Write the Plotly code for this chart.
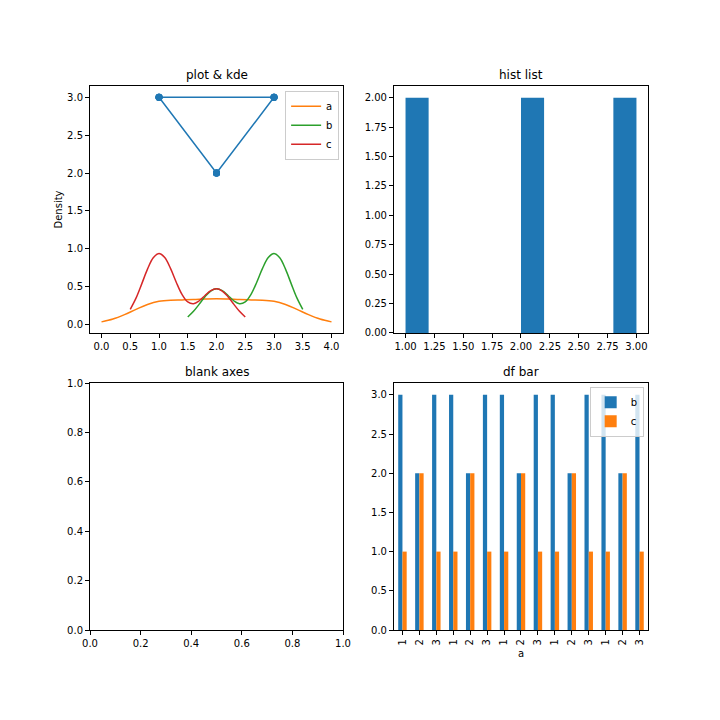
import numpy as np
import plotly.graph_objects as go
from plotly.subplots import make_subplots

# dataframe columns
a = [1, 2, 3, 1, 2, 3, 1, 2, 3, 1, 2, 3, 1, 2, 3]
b = [3, 2, 3, 3, 2, 3, 3, 2, 3, 3, 2, 3, 3, 2, 3]
c = [1, 2, 1, 1, 2, 1, 1, 2, 1, 1, 2, 1, 1, 2, 1]

# kde curves
kde_a_x = [0.0, 0.2, 0.4, 0.6, 0.8, 1.0, 1.2, 1.4, 1.6, 1.8, 2.0,
           2.2, 2.4, 2.6, 2.8, 3.0, 3.2, 3.4, 3.6, 3.8, 4.0]
kde_a_y = [0.034, 0.072, 0.130, 0.199, 0.263, 0.305, 0.321, 0.324, 0.328, 0.335, 0.339,
           0.335, 0.328, 0.324, 0.321, 0.305, 0.263, 0.199, 0.130, 0.072, 0.034]
kde_b_x = [1.5, 1.6, 1.7, 1.8, 1.9, 2.0, 2.1, 2.2, 2.3, 2.4, 2.5,
           2.6, 2.7, 2.8, 2.9, 3.0, 3.1, 3.2, 3.3, 3.4, 3.5]
kde_b_y = [0.099, 0.174, 0.268, 0.366, 0.441, 0.470, 0.446, 0.383, 0.313, 0.274, 0.298,
           0.397, 0.558, 0.740, 0.884, 0.938, 0.881, 0.731, 0.536, 0.347, 0.199]
kde_c_x = [0.5, 0.6, 0.7, 0.8, 0.9, 1.0, 1.1, 1.2, 1.3, 1.4, 1.5,
           1.6, 1.7, 1.8, 1.9, 2.0, 2.1, 2.2, 2.3, 2.4, 2.5]
kde_c_y = [0.199, 0.347, 0.536, 0.731, 0.881, 0.938, 0.884, 0.740, 0.558, 0.397, 0.298,
           0.274, 0.313, 0.383, 0.446, 0.470, 0.441, 0.366, 0.268, 0.174, 0.099]

hist_list = [1, 1, 2, 2, 3, 3]

BLUE, ORANGE, GREEN, RED = "#1f77b4", "#ff7f0e", "#2ca02c", "#d62728"
FONT = "DejaVu Sans"

fig = make_subplots(rows=2, cols=2)

# plot & kde
fig.add_trace(go.Scatter(x=a, y=b, mode="lines+markers", line=dict(color=BLUE, width=1.5),
                         marker=dict(size=7, color=BLUE), showlegend=False), row=1, col=1)
for name, xs, ys, col in [("a", kde_a_x, kde_a_y, ORANGE), ("b", kde_b_x, kde_b_y, GREEN),
                          ("c", kde_c_x, kde_c_y, RED)]:
    fig.add_trace(go.Scatter(x=xs, y=ys, mode="lines", name=name, line=dict(color=col, width=1.5, shape="spline"),
                             legend="legend"), row=1, col=1)

# hist list
counts, edges = np.histogram(hist_list, bins=10)
fig.add_trace(go.Bar(x=edges[:-1], y=counts, width=edges[1] - edges[0], offset=0,
                     marker=dict(color=BLUE, line=dict(width=0)), showlegend=False), row=1, col=2)

# blank axes (empty trace so the axes get drawn)
fig.add_trace(go.Scatter(x=[None], y=[None], mode="markers", showlegend=False, hoverinfo="skip"),
              row=2, col=1)

# df bar
idx = list(range(len(a)))
fig.add_trace(go.Bar(x=idx, y=b, name="b", width=0.25, offset=-0.25,
                     marker=dict(color=BLUE, line=dict(width=0)), legend="legend2"), row=2, col=2)
fig.add_trace(go.Bar(x=idx, y=c, name="c", width=0.25, offset=0,
                     marker=dict(color=ORANGE, line=dict(width=0)), legend="legend2"), row=2, col=2)

axis_style = dict(showline=True, mirror=True, linecolor="black", linewidth=1, ticks="outside",
                  ticklen=4, tickwidth=1, tickcolor="black", showgrid=False, zeroline=False,
                  tickfont=dict(size=10, color="black"))

xd1, xd2 = [0.125, 0.4764], [0.5472, 0.9]
yd_top, yd_bot = [0.5375, 0.8806], [0.125, 0.468]

fig.update_layout(
    template="none", width=720, height=720, margin=dict(l=0, r=0, t=0, b=0),
    paper_bgcolor="white", plot_bgcolor="white", font=dict(family=FONT, size=10, color="black"),
    barmode="overlay",
    xaxis=dict(axis_style, domain=xd1, range=[-0.2, 4.2], dtick=0.5, tick0=0, tickformat=".1f"),
    yaxis=dict(axis_style, domain=yd_top, range=[-0.113, 3.15], dtick=0.5, tick0=0, tickformat=".1f",
               title=dict(text="Density", font=dict(size=10), standoff=2)),
    xaxis2=dict(axis_style, domain=xd2, range=[0.9, 3.1], dtick=0.25, tick0=1, tickformat=".2f"),
    yaxis2=dict(axis_style, domain=yd_top, range=[0, 2.1], dtick=0.25, tick0=0, tickformat=".2f"),
    xaxis3=dict(axis_style, domain=xd1, range=[0, 1], dtick=0.2, tick0=0, tickformat=".1f"),
    yaxis3=dict(axis_style, domain=yd_bot, range=[0, 1], dtick=0.2, tick0=0, tickformat=".1f"),
    xaxis4=dict(axis_style, domain=xd2, range=[-0.5, 14.5], tickmode="array", tickvals=idx,
                ticktext=[str(v) for v in a], tickangle=-90,
                title=dict(text="a", font=dict(size=10), standoff=5)),
    yaxis4=dict(axis_style, domain=yd_bot, range=[0, 3.15], dtick=0.5, tick0=0, tickformat=".1f"),
    legend=dict(x=0.471, y=0.874, xanchor="right", yanchor="top", bgcolor="rgba(255,255,255,0.8)",
                bordercolor="#cccccc", borderwidth=1, font=dict(size=10), tracegroupgap=0,
                itemwidth=30),
    legend2=dict(x=0.894, y=0.463, xanchor="right", yanchor="top", bgcolor="rgba(255,255,255,0.8)",
                 bordercolor="#cccccc", borderwidth=1, font=dict(size=10), itemwidth=30),
)

titles = [("plot & kde", xd1, yd_top), ("hist list", xd2, yd_top),
          ("blank axes", xd1, yd_bot), ("df bar", xd2, yd_bot)]
for text, xd, yd in titles:
    fig.add_annotation(text=text, x=(xd[0] + xd[1]) / 2, y=yd[1], xref="paper", yref="paper",
                       xanchor="center", yanchor="bottom", yshift=2, showarrow=False,
                       font=dict(size=12, color="black", family=FONT))

fig.write_html("out.html", config={"displayModeBar": False},
               post_script="document.body.style.margin='0';")
